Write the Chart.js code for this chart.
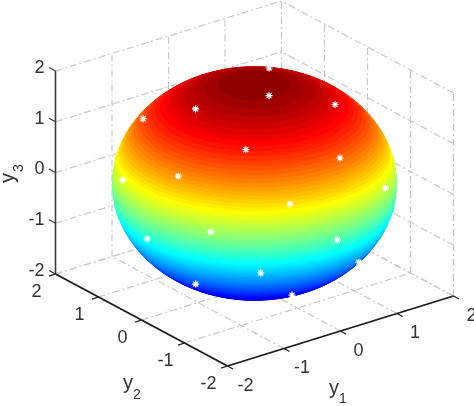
<!DOCTYPE html>
<html>
<head>
<meta charset="utf-8">
<title>Sphere</title>
<script src="https://cdn.jsdelivr.net/npm/chart.js@4"></script>
<style>
    html, body { margin: 0; padding: 0; background: #ffffff; }
    canvas { display: block; }
</style>
</head>
<body>
<canvas id="sphereChart" width="474" height="406"></canvas>
<script>
// axis ticks (all three axes run -2..2)
const tickValues = [-2, -1, 0, 1, 2];
const tickLabels = ['-2', '-1', '0', '1', '2'];

// sample points on the surface
const starY1 = [-0.96, -1.21, -1.85, -1.70, -0.07, 0.67, 0.81, -0.93, 0.28, 1.03, -0.71, -1.96, -1.64, -1.49, -0.05, -1.06, 0.69, -0.28];
const starY2 = [0.11, 1.00, 0.63, -0.46, -0.43, 0.54, -0.81, -1.02, -1.62, -1.69, -1.76, -0.08, -1.14, -0.59, -1.99, -1.54, -1.52, -1.24];
const starY3 = [1.75, 1.24, 0.42, 0.94, 1.95, 1.80, 1.64, 1.45, 1.14, 0.32, 0.64, -0.38, 0.13, -1.20, -0.19, -0.70, -1.10, -1.54];

// latitude rings of the radius 2 surface, one per colormap entry
const sphereRadius = 2;
const ringLevels = [
    -2.0000, -1.9375, -1.8750, -1.8125, -1.7500, -1.6875, -1.6250, -1.5625,
    -1.5000, -1.4375, -1.3750, -1.3125, -1.2500, -1.1875, -1.1250, -1.0625,
    -1.0000, -0.9375, -0.8750, -0.8125, -0.7500, -0.6875, -0.6250, -0.5625,
    -0.5000, -0.4375, -0.3750, -0.3125, -0.2500, -0.1875, -0.1250, -0.0625,
    0.0000, 0.0625, 0.1250, 0.1875, 0.2500, 0.3125, 0.3750, 0.4375,
    0.5000, 0.5625, 0.6250, 0.6875, 0.7500, 0.8125, 0.8750, 0.9375,
    1.0000, 1.0625, 1.1250, 1.1875, 1.2500, 1.3125, 1.3750, 1.4375,
    1.5000, 1.5625, 1.6250, 1.6875, 1.7500, 1.8125, 1.8750, 1.9375
];

// view of the 3d box on the page
const view = {
    originX: 254.5, originY: 183.5,
    y1X: 56.5, y1Y: -17.5,
    y2X: -43, y2Y: -23,
    y3Y: -50.75
};

function project(y1, y2, y3) {
    return {
        x: view.originX + y1 * view.y1X + y2 * view.y2X,
        y: view.originY + y1 * view.y1Y + y2 * view.y2Y + y3 * view.y3Y
    };
}

function jet(t) {
    const c = v => Math.round(255 * Math.max(0, Math.min(1, v)));
    return `rgb(${c(1.5 - Math.abs(4 * t - 3))}, ${c(1.5 - Math.abs(4 * t - 2))}, ${c(1.5 - Math.abs(4 * t - 1))})`;
}

const datasets = [];

// later calls paint over earlier ones
function addLine(points, color, width, dash) {
    datasets.push({
        data: points,
        showLine: true,
        borderColor: color,
        borderWidth: width,
        borderDash: dash || [],
        pointRadius: 0,
        tension: 0,
        fill: false,
        order: -datasets.length
    });
}

const gridColor = '#c9c9c9';
const gridDash = [7, 3, 2, 3];

// back walls and floor
tickValues.forEach(v => {
    addLine([project(v, -2, -2), project(v, 2, -2)], gridColor, 1.2, gridDash);
    addLine([project(-2, v, -2), project(2, v, -2)], gridColor, 1.2, gridDash);
    addLine([project(-2, 2, v), project(2, 2, v)], gridColor, 1.2, gridDash);
    addLine([project(v, 2, -2), project(v, 2, 2)], gridColor, 1.2, gridDash);
    addLine([project(2, -2, v), project(2, 2, v)], gridColor, 1.2, gridDash);
    addLine([project(2, v, -2), project(2, v, 2)], gridColor, 1.2, gridDash);
});

// surface: rings stacked bottom to top, the view is from above
ringLevels.forEach(level => {
    const rho = Math.sqrt(sphereRadius * sphereRadius - level * level);
    const ring = [];
    for (let deg = 0; deg <= 360; deg += 4) {
        const a = deg * Math.PI / 180;
        ring.push(project(rho * Math.cos(a), rho * Math.sin(a), level));
    }
    const color = jet((level + sphereRadius) / (2 * sphereRadius));
    datasets.push({
        data: ring,
        showLine: true,
        borderColor: color,
        backgroundColor: color,
        borderWidth: 1,
        pointRadius: 0,
        tension: 0,
        fill: 'shape',
        order: -datasets.length
    });
});

// axes and tick marks
const axisColor = '#1c1c1c';
addLine([project(-2, 2, -2), project(-2, 2, 2)], '#3c3c3c', 1.6);
addLine([project(-2, 2, -2), project(-2, -2, -2)], axisColor, 1.8);
addLine([project(-2, -2, -2), project(2, -2, -2)], axisColor, 1.8);
tickValues.forEach(v => {
    addLine([project(-2, 2, v), project(-2, 2.15, v)], '#3c3c3c', 1.3);
    addLine([project(-2, v, -2), project(-2.115, v, -2)], axisColor, 1.3);
    addLine([project(v, -2, -2), project(v, -2.13, -2)], axisColor, 1.3);
});

// surface samples
datasets.push({
    data: starY1.map((y1, i) => project(y1, starY2[i], starY3[i])),
    showLine: false,
    pointStyle: 'star',
    pointRadius: 3.5,
    borderColor: '#ffffff',
    backgroundColor: '#ffffff',
    borderWidth: 1.2,
    order: -datasets.length
});

const axisText = {
    id: 'axisText',
    afterDraw(chart) {
        const { ctx, scales } = chart;
        const put = (p, text, dx, dy, align, size) => {
            ctx.font = `${size}px "Liberation Sans", Arial, sans-serif`;
            ctx.textAlign = align;
            ctx.textBaseline = 'middle';
            ctx.fillText(text, scales.x.getPixelForValue(p.x) + dx, scales.y.getPixelForValue(p.y) + dy);
        };
        ctx.save();
        ctx.fillStyle = '#333333';
        tickValues.forEach((v, i) => {
            put(project(-2, 2, v), tickLabels[i], -11, -3, 'right', 18);
            put(project(-2, v, -2), tickLabels[i], -19, 18, 'center', 18);
            put(project(v, -2, -2), tickLabels[i], 18, 20, 'center', 18);
        });
        // axis titles with subscripts
        ctx.font = '20px "Liberation Sans", Arial, sans-serif';
        ctx.textAlign = 'center';
        ctx.textBaseline = 'middle';
        ctx.fillText('y', 334, 388);
        ctx.fillText('y', 128, 383);
        ctx.font = '14px "Liberation Sans", Arial, sans-serif';
        ctx.fillText('1', 343, 399);
        ctx.fillText('2', 137, 395);
        ctx.save();
        ctx.translate(8, 178);
        ctx.rotate(-Math.PI / 2);
        ctx.font = '20px "Liberation Sans", Arial, sans-serif';
        ctx.fillText('y', 0, 0);
        ctx.font = '14px "Liberation Sans", Arial, sans-serif';
        ctx.fillText('3', 10, 11);
        ctx.restore();
        ctx.restore();
    }
};

new Chart(document.getElementById('sphereChart').getContext('2d'), {
    type: 'scatter',
    data: { datasets: datasets },
    options: {
        responsive: false,
        animation: false,
        layout: { padding: 0, autoPadding: false },
        plugins: {
            legend: { display: false },
            tooltip: { enabled: false }
        },
        scales: {
            x: { display: false, min: 0, max: 474 },
            y: { display: false, min: 0, max: 406, reverse: true }
        }
    },
    plugins: [axisText]
});
</script>
</body>
</html>
